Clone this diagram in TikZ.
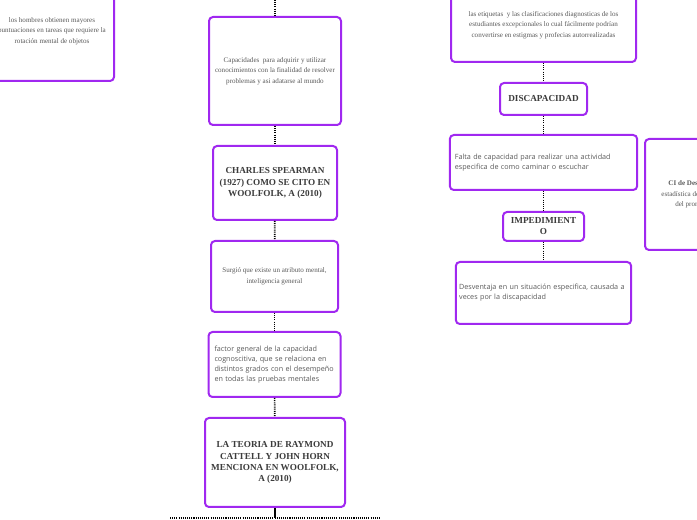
\documentclass[tikz,border=0pt]{standalone}
\usepackage{fontspec}
\setmainfont{Liberation Serif}
\newfontfamily\sans{Open Sans}
\definecolor{morado}{RGB}{160,40,240}
\definecolor{gristexto}{RGB}{90,90,90}
\definecolor{gristitulo}{RGB}{60,60,60}
\tikzset{
	caja/.style={draw=morado, line width=1.5pt, rounded corners=3pt, fill=white, inner sep=2pt},
	textoc/.style={text=gristexto, align=center, font=\fontsize{5.3}{7.8}\selectfont},
	titulo/.style={text=gristitulo, align=center, font=\bfseries\fontsize{6.9}{8.3}\selectfont},
	textos/.style={text=gristexto, align=left, font=\sans\fontsize{5.4}{7.6}\selectfont},
	enlace/.style={line width=1.2pt, dash pattern=on 0.8pt off 0.8pt}
}

\begin{document}
\begin{tikzpicture}[x=0.75pt,y=-0.75pt]
	\useasboundingbox (0,0) rectangle (697,520);
	% columna izquierda
	\node[caja, textoc, minimum width=93pt, minimum height=75pt] (izq) at (52,31) {los hombres obtienen mayores\\puntuaciones en tareas que requiere la\\rotaci\'on mental de objetos};
	% columna central
	\node[caja, textoc, minimum width=99pt, minimum height=81pt] (cap) at (275,71) {Capacidades\ \ para adquirir y utilizar\\conocimientos con la finalidad de resolver\\problemas y asi adatarse al mundo};
	\node[caja, titulo, minimum width=93pt, minimum height=55.5pt] (spear) at (275,183) {CHARLES SPEARMAN\\(1927) COMO SE CITO EN\\WOOLFOLK, A (2010)};
	\node[caja, textoc, minimum width=95.25pt, minimum height=53.25pt] (surg) at (274.5,276.5) {Surgi\'o que existe un atributo mental,\\inteligencia general};
	\node[caja, textos, text width=90pt, minimum height=48.75pt, inner sep=4.5pt] (fact) at (274.5,364.5) {factor general de la capacidad\\cognoscitiva, que se relaciona en\\distintos grados con el desempe\~no\\en todas las pruebas mentales};
	\node[caja, titulo, minimum width=105pt, minimum height=66.75pt] (catt) at (275,462.5) {LA TEORIA DE RAYMOND\\CATTELL Y JOHN HORN\\MENCIONA EN WOOLFOLK,\\A (2010)};
	\coordinate (arriba) at (275,0);
	\coordinate (abajo) at (275,518);
	\draw[enlace] (arriba) -- (cap);
	\draw[enlace] (cap) -- (spear);
	\draw[enlace] (spear) -- (surg);
	\draw[enlace] (surg) -- (fact);
	\draw[enlace] (fact) -- (catt);
	\draw[line width=1.2pt] (catt) -- (abajo);
	\draw[line width=1pt, dash pattern=on 0.8pt off 0.8pt] (170,518) -- (380,518);
	% columna derecha
	\node[caja, textoc, minimum width=138.75pt, minimum height=55.5pt] (etiq) at (543.5,25) {las etiquetas\ \ y las clasificaciones diagnosticas de los\\estudiantes excepcionales lo cual f\'acilmente podr\'ian\\convertirse en estigmas y profecias autorrealizadas};
	\node[caja, titulo, minimum width=65.25pt, minimum height=24pt] (disc) at (543.5,99) {DISCAPACIDAD};
	\node[caja, textos, text width=133pt, minimum height=41.25pt, inner sep=3.75pt] (falta) at (543.5,162.5) {Falta de capacidad para realizar una actividad\\especifica de como caminar o escuchar};
	\node[caja, titulo, minimum width=60.75pt, minimum height=21.75pt] (imp) at (543.5,226.5) {IMPEDIMIENT\\O};
	\node[caja, textos, text width=126.5pt, minimum height=46.5pt, inner sep=2.5pt] (desv) at (543.5,293) {Desventaja en un situaci\'on especifica, causada a\\veces por la discapacidad};
	\draw[enlace] (etiq) -- (disc);
	\draw[enlace] (disc) -- (falta);
	\draw[enlace] (falta) -- (imp);
	\draw[enlace] (imp) -- (desv);
	% borde derecho
	\node[caja, textoc, minimum width=73.5pt, minimum height=83.25pt] (ci) at (694,194.5) {\textbf{CI de Desviaci\'on}\\estad\'istica del cociente\\del promedio};
\end{tikzpicture}
\end{document}
